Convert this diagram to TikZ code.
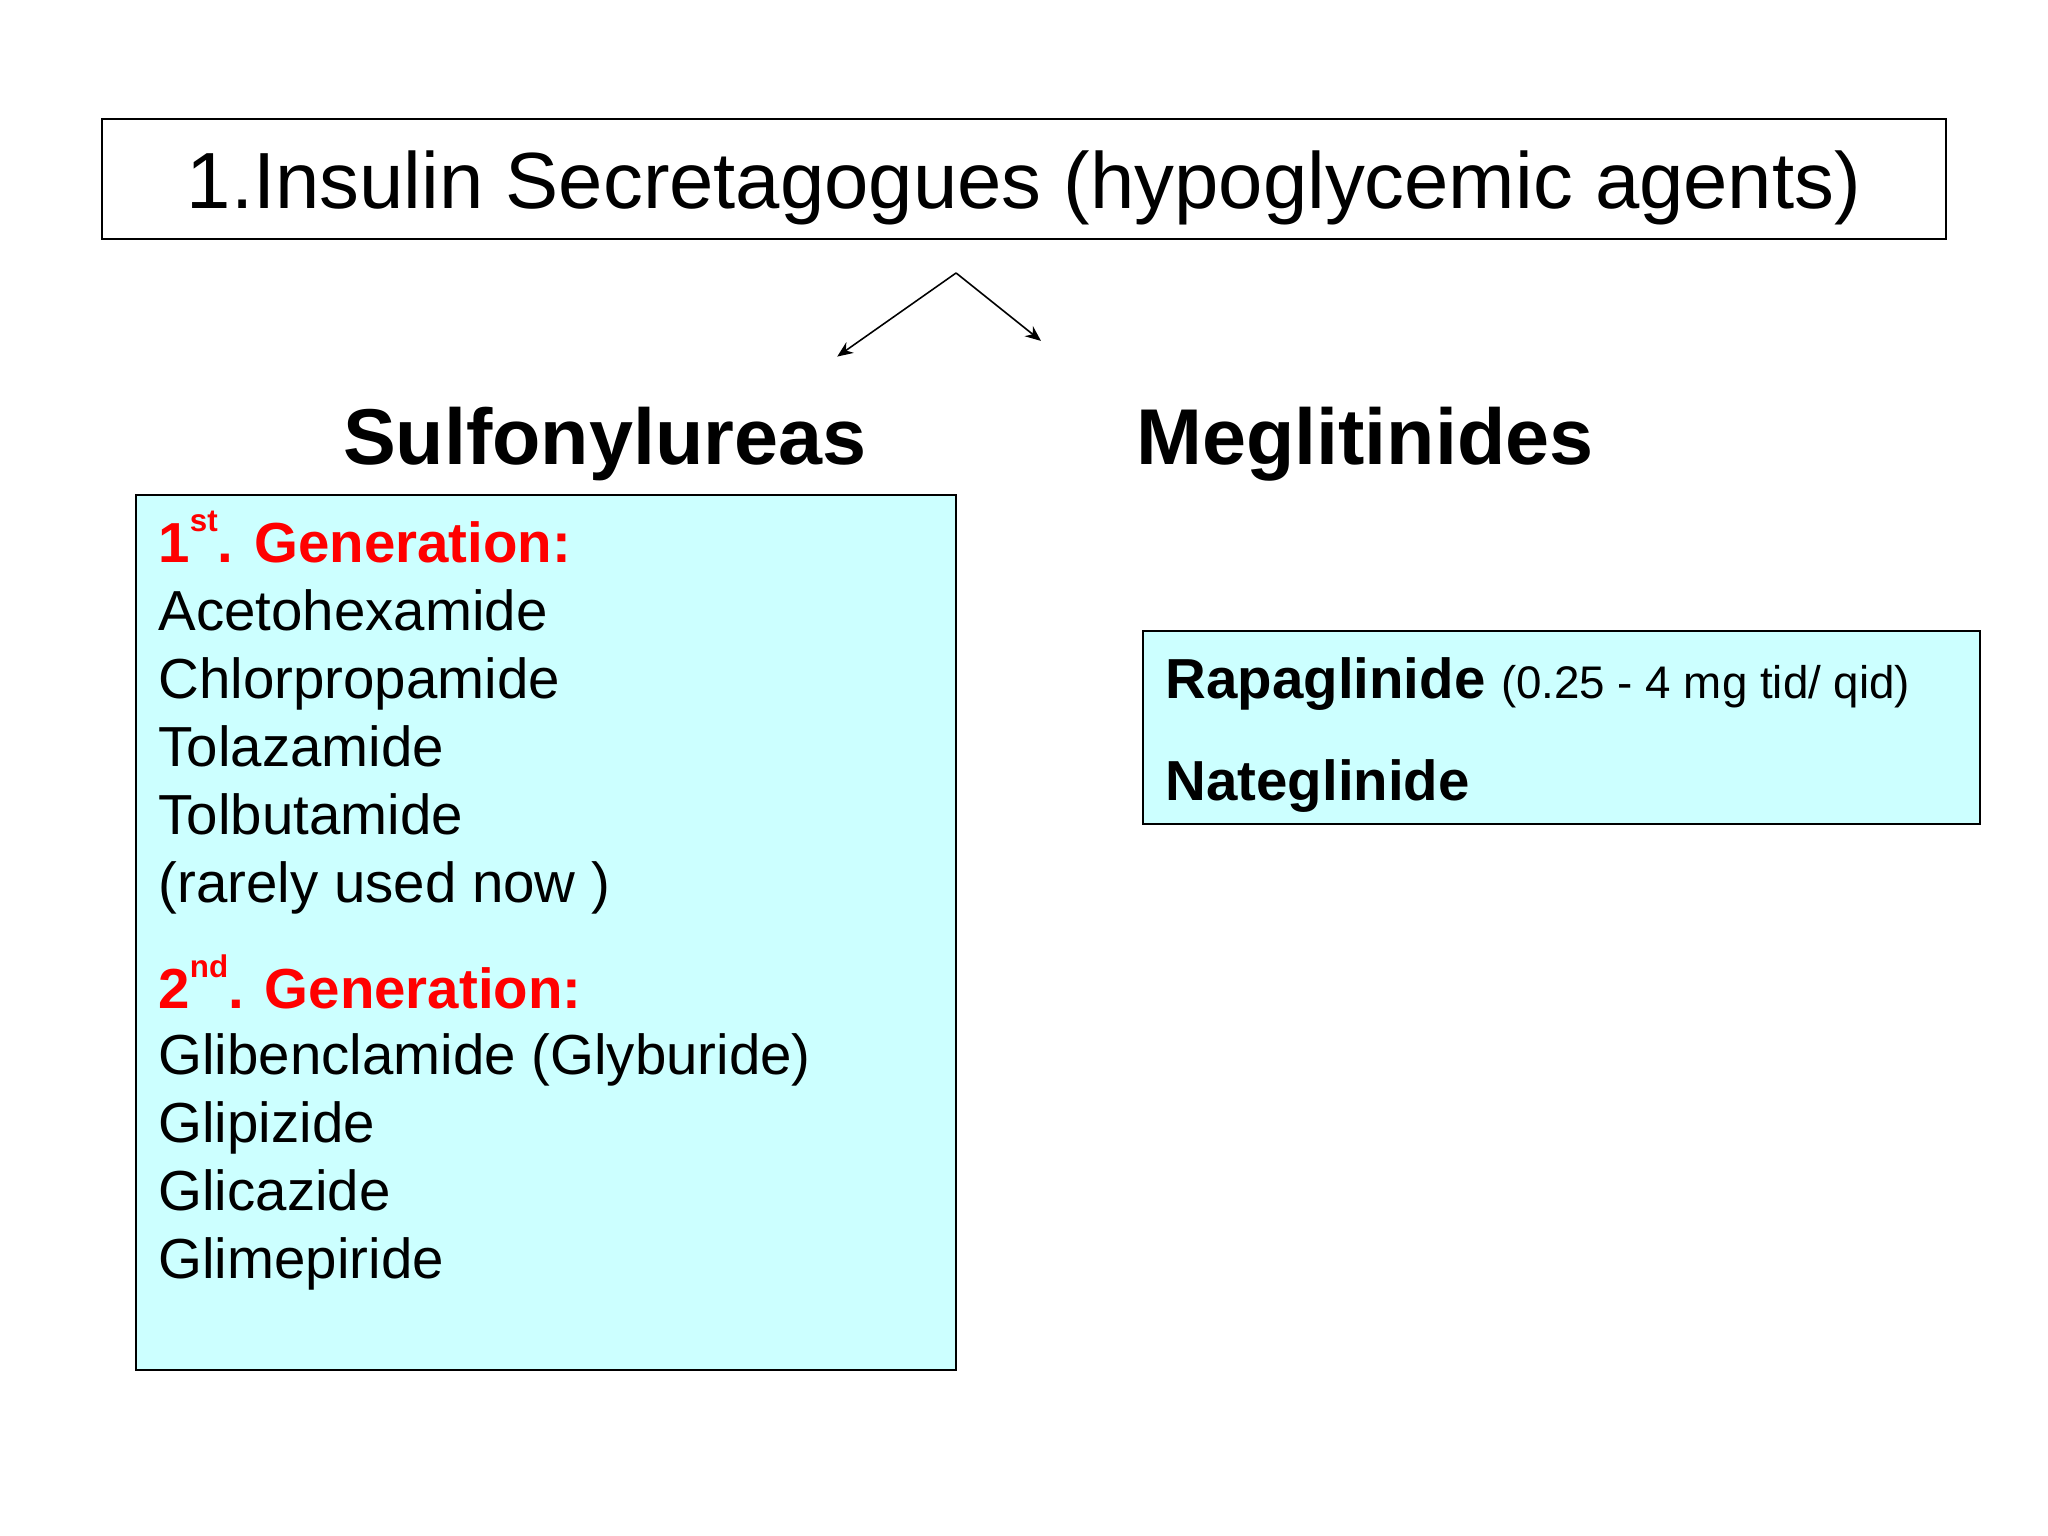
\documentclass[tikz,border=0pt]{standalone}
\usepackage{fontspec}
\usetikzlibrary{arrows.meta}
\setmainfont{Liberation Sans}
\definecolor{boxfill}{HTML}{CCFFFF}
\newcommand{\sups}[1]{\raisebox{0.55em}{\fontsize{12}{14}\selectfont #1}}
\begin{document}
\begin{tikzpicture}[x=0.5pt,y=-0.5pt,
  itm/.style={anchor=base west,inner sep=0pt,font=\fontsize{21.6}{25}\selectfont},
  gen/.style={itm,text=red,font=\fontsize{21.6}{25}\selectfont\bfseries},
  head/.style={inner sep=0pt,anchor=base,font=\fontsize{30.3}{36}\selectfont\bfseries},
  arr/.style={-{Stealth[length=6pt,width=5pt]},line width=0.6pt}]
\useasboundingbox (0,0) rectangle (1568,1176);
\node[draw,line width=0.7pt,minimum width=706pt,minimum height=46pt,inner sep=0pt] (title) at (784,137) {};
\node[anchor=base,inner sep=0pt,font=\fontsize{30.5}{36}\selectfont] (tt) at (784,160) {1.Insulin Secretagogues (hypoglycemic agents)};
\coordinate (apex) at (732,209);
\coordinate (la) at (641,273);
\coordinate (ra) at (797,261);
\draw[arr] (apex) -- (la);
\draw[arr] (apex) -- (ra);
\node[head] (sul) at (463,356) {Sulfonylureas};
\node[head] (meg) at (1045,356) {Meglitinides};
\draw[fill=boxfill,line width=0.7pt] (104,379) rectangle (732,1049);
\node[gen] (g1) at (121,431) {1\sups{st}. Generation:};
\node[itm] (a1) at (121,483) {Acetohexamide};
\node[itm] (a2) at (121,535) {Chlorpropamide};
\node[itm] (a3) at (121,587) {Tolazamide};
\node[itm] (a4) at (121,639) {Tolbutamide};
\node[itm] (a5) at (121,691) {(rarely used now )};
\node[gen] (g2) at (121,772) {2\sups{nd}. Generation:};
\node[itm] (b1) at (121,823) {Glibenclamide (Glyburide)};
\node[itm] (b2) at (121,875) {Glipizide};
\node[itm] (b3) at (121,927) {Glicazide};
\node[itm] (b4) at (121,979) {Glimepiride};
\draw[fill=boxfill,line width=0.7pt] (875,483) rectangle (1516,631);
\node[itm] (r1) at (892,535) {\textbf{Rapaglinide} {\fontsize{17.5}{20}\selectfont (0.25 - 4 mg tid/ qid)}};
\node[itm] (r2) at (892,613) {\textbf{Nateglinide}};
\end{tikzpicture}
\end{document}
